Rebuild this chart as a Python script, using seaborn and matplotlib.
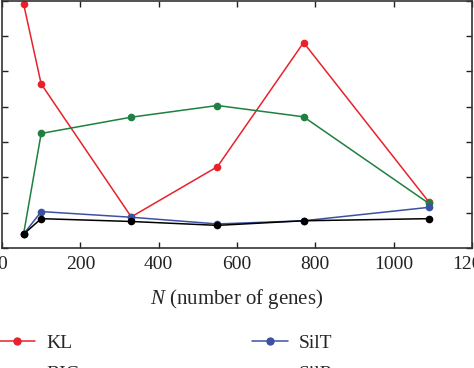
import numpy as np
import pandas as pd
import matplotlib
matplotlib.use("Agg")
import matplotlib.pyplot as plt
import seaborn as sns

# values
n_genes = [55, 100, 330, 550, 770, 1090]
kl = [6.91, 4.64, 0.88, 2.30, 5.81, 1.30]
bic = [0.39, 3.24, 3.70, 4.03, 3.71, 1.26]
silt = [0.39, 1.03, 0.87, 0.68, 0.77, 1.15]
silr = [0.39, 0.83, 0.75, 0.64, 0.77, 0.83]

methods = ["KL", "BIC", "SilT", "SilR"]
colors = ["#e8222b", "#1f8040", "#3b52a3", "#000000"]

df = pd.concat([
    pd.DataFrame({"N": n_genes, "value": vals, "method": name})
    for name, vals in zip(methods, [kl, bic, silt, silr])
])

sns.set_style("ticks")
plt.rcParams["font.family"] = ["Liberation Serif", "DejaVu Serif"]
plt.rcParams["mathtext.fontset"] = "custom"
plt.rcParams["mathtext.it"] = "Liberation Serif:italic"

fig = plt.figure(figsize=(4.74, 3.68), dpi=100)
ax = fig.add_axes([2 / 474, (368 - 248) / 368, 470 / 474, 247.5 / 368])

sns.lineplot(data=df, x="N", y="value", hue="method", hue_order=methods,
             palette=colors, marker="o", markersize=5.5, markeredgewidth=0,
             linewidth=1.1, ax=ax, legend=False)

ax.set_xlim(0, 1200)
ax.set_ylim(0, 7)
ax.set_xticks(range(0, 1201, 200))
ax.set_yticks(range(0, 8))
ax.tick_params(direction="in", length=4, width=1, top=True, right=True,
               labelsize=14, colors="#222222", pad=5.5)
ax.tick_params(axis="y", labelleft=False)
for s in ax.spines.values():
    s.set_linewidth(1.2)
    s.set_color("#333333")
ax.set_xlabel("$N$ (number of genes)", fontsize=15, labelpad=10)
ax.set_ylabel("")

handles = [plt.Line2D([], [], color=c, marker="o", markersize=5, linewidth=1.1)
           for c in colors]
fig.legend(handles, methods, ncol=2, frameon=False,
           loc="upper left", bbox_to_anchor=(-0.038, 1 - 317 / 368),
           fontsize=14, handlelength=1.85, handletextpad=0.55,
           columnspacing=8.9, labelspacing=0.7)

fig.savefig("out.png", dpi=100)
